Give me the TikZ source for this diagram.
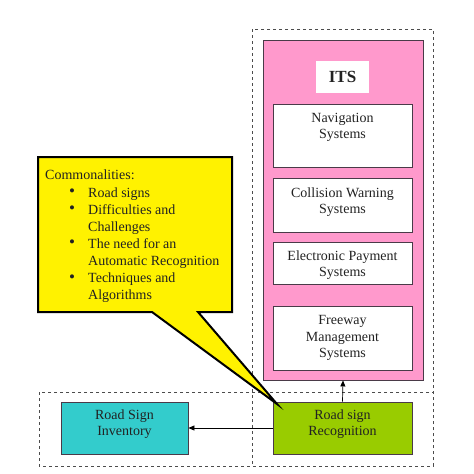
\documentclass[tikz,border=0pt]{standalone}
\usepackage{fontspec}
\setmainfont{Liberation Serif}
\usetikzlibrary{arrows.meta}
\definecolor{pinkfill}{HTML}{FF99CC}
\definecolor{tealfill}{HTML}{33CCCC}
\definecolor{greenfill}{HTML}{99CC00}
\definecolor{boxline}{HTML}{4A3A48}
\definecolor{txt}{HTML}{222222}
\newcommand{\bul}{\makebox[19pt][l]{\raisebox{0.5pt}{\fontsize{17}{17}\selectfont\textbullet}}}
\newcommand{\nob}{\hspace*{19pt}}
\tikzset{
  dashbox/.style={draw=black!70, dashed, line width=0.7pt},
  whitebox/.style={draw=boxline, fill=white, line width=0.9pt, inner sep=0pt},
  colbox/.style={draw=boxline, line width=0.9pt, inner sep=0pt},
  boxtext/.style={anchor=north, align=center, inner sep=0pt, text=txt,
     font=\fontsize{14}{16.5}\selectfont},
  arr/.style={-{Triangle[length=6pt,width=5pt]}, line width=0.7pt, black}
}
\begin{document}
\begin{tikzpicture}[x=1pt,y=-1pt]
\useasboundingbox (0,0) rectangle (474,474);
% dashed frames
\draw[dashbox] (252,29) rectangle (433,466);
\draw[dashbox] (39,392) rectangle (433,466);
% pink ITS container
\node[draw=boxline, fill=pinkfill, line width=0.9pt, minimum width=160pt, minimum height=340pt, inner sep=0pt] (its) at (343,210) {};
\node[fill=white, minimum width=53pt, minimum height=32pt, inner sep=0pt, font=\fontsize{17}{18}\selectfont\bfseries, text=txt] (itslabel) at (342.5,77) {ITS};
\node[whitebox, minimum width=139pt, minimum height=63pt] (nav) at (342.5,135.5) {};
\node[boxtext] (navt) at ([yshift=-9pt]nav.north) {Navigation\\Systems};
\node[whitebox, minimum width=139pt, minimum height=54pt] (col) at (342.5,205) {};
\node[boxtext] (colt) at ([yshift=-10pt]col.north) {Collision Warning\\Systems};
\node[whitebox, minimum width=139pt, minimum height=42pt] (pay) at (342.5,263) {};
\node[boxtext] (payt) at ([yshift=-9pt]pay.north) {Electronic Payment\\Systems};
\node[whitebox, minimum width=139pt, minimum height=64pt] (fwy) at (342.5,338) {};
\node[boxtext] (fwyt) at ([yshift=-10pt]fwy.north) {Freeway\\Management\\Systems};
% bottom boxes
\node[colbox, fill=tealfill, minimum width=127pt, minimum height=52pt] (inv) at (124.5,428) {};
\node[boxtext] (invt) at ([yshift=-8pt]inv.north) {Road Sign\\Inventory};
\node[colbox, fill=greenfill, minimum width=139pt, minimum height=52pt] (rec) at (342.5,428) {};
\node[boxtext] (rect) at ([yshift=-8pt]rec.north) {Road sign\\Recognition};
% arrows
\draw[arr] (rec.west) -- (inv.east);
\draw[arr] (rec.north) -- (its.south);
% callout
\coordinate (tip) at (277,404);
\draw[fill=yellow, line width=2pt, line join=miter] (38,157) -- (232,157) -- (232,312) -- (198,312) -- (tip) -- (152,312) -- (38,312) -- cycle;
\node[anchor=north west, inner sep=0pt, text=txt, font=\fontsize{14}{17.1}\selectfont, align=left] (callt) at (45,170) {Commonalities:\\[0pt]
\hspace*{24pt}\bul Road signs\\
\hspace*{24pt}\bul Difficulties and\\
\hspace*{24pt}\nob Challenges\\
\hspace*{24pt}\bul The need for an\\
\hspace*{24pt}\nob Automatic Recognition\\
\hspace*{24pt}\bul Techniques and\\
\hspace*{24pt}\nob Algorithms};
\end{tikzpicture}
\end{document}
